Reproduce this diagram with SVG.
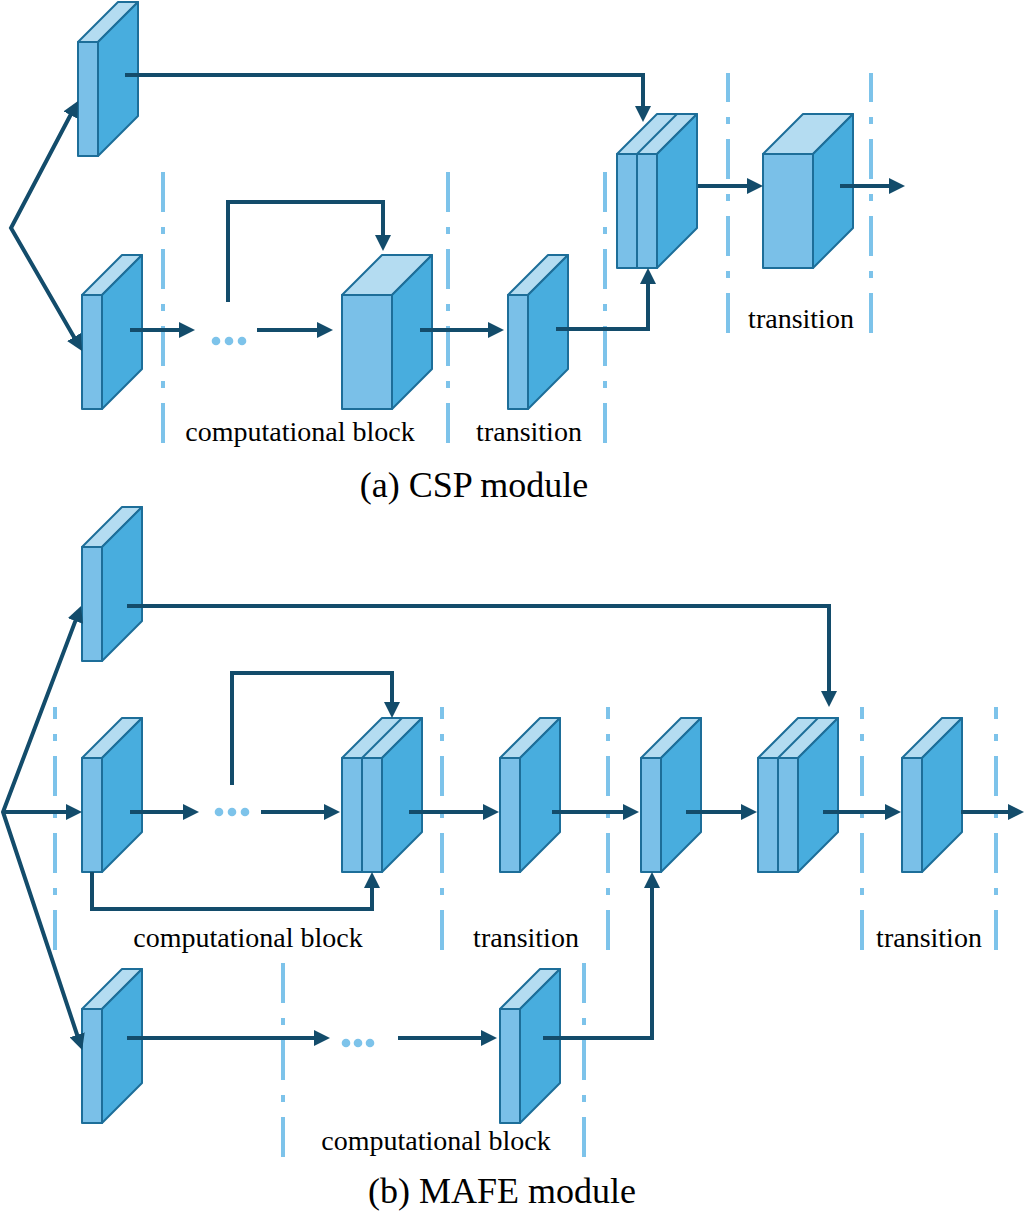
<svg xmlns="http://www.w3.org/2000/svg" width="1025" height="1214" viewBox="0 0 1025 1214">
<style>
.fr{fill:#7AC0E8;stroke:#1D6E99;stroke-width:2;stroke-linejoin:round}
.sd{fill:#48ADDE;stroke:#1D6E99;stroke-width:2;stroke-linejoin:round}
.tp{fill:#B4DCF1;stroke:#1D6E99;stroke-width:2;stroke-linejoin:round}
.dv{fill:none;stroke:#1D6E99;stroke-width:2}
.cn{fill:none;stroke:#134C6B;stroke-width:4}
.ar{marker-end:url(#ah)}
.dash{fill:none;stroke:#7DC3EA;stroke-width:4;stroke-dasharray:40 15 7 15}
.dot{fill:#7DC3EA}
.lb{font-family:"Liberation Serif","Times New Roman",serif;font-size:28px;fill:#000;text-anchor:middle}
.cap{font-family:"Liberation Serif","Times New Roman",serif;font-size:36px;fill:#000;text-anchor:middle}
</style>
<defs>
<marker id="ah" markerUnits="userSpaceOnUse" markerWidth="16" markerHeight="16" refX="6" refY="8" orient="auto-start-reverse" viewBox="0 0 16 16">
<path d="M0,0 L16,8 L0,16 z" fill="#134C6B"/>
</marker>
</defs>
<rect width="1025" height="1214" fill="#fff"/>

<g id="separators">
<line class="dash" x1="163" y1="443" x2="163" y2="172"/>
<line class="dash" x1="448" y1="443" x2="448" y2="172"/>
<line class="dash" x1="605" y1="443" x2="605" y2="172"/>
<line class="dash" x1="728" y1="333" x2="728" y2="73"/>
<line class="dash" x1="871" y1="333" x2="871" y2="73"/>
<line class="dash" x1="55" y1="950" x2="55" y2="707"/>
<line class="dash" x1="442" y1="950" x2="442" y2="707"/>
<line class="dash" x1="608" y1="950" x2="608" y2="707"/>
<line class="dash" x1="862" y1="950" x2="862" y2="707"/>
<line class="dash" x1="996" y1="950" x2="996" y2="707"/>
<line class="dash" x1="283" y1="1157" x2="283" y2="962"/>
<line class="dash" x1="584" y1="1157" x2="584" y2="962"/>
</g>

<!-- CSP nodes -->
<g id="csp-split-top">
<rect class="fr" x="78" y="42" width="20" height="114"/>
<polygon class="tp" points="78,42 118,2 138,2 98,42"/>
<polygon class="sd" points="98,42 138,2 138,116 98,156"/>
</g>
<g id="csp-split-bottom">
<rect class="fr" x="82" y="295" width="20" height="114"/>
<polygon class="tp" points="82,295 122,255 142,255 102,295"/>
<polygon class="sd" points="102,295 142,255 142,369 102,409"/>
</g>
<g id="csp-block">
<rect class="fr" x="342" y="295" width="50" height="114"/>
<polygon class="tp" points="342,295 382,255 432,255 392,295"/>
<polygon class="sd" points="392,295 432,255 432,369 392,409"/>
</g>
<g id="csp-transition1">
<rect class="fr" x="508" y="295" width="20" height="114"/>
<polygon class="tp" points="508,295 548,255 568,255 528,295"/>
<polygon class="sd" points="528,295 568,255 568,369 528,409"/>
</g>
<g id="csp-concat">
<rect class="fr" x="617" y="154" width="40" height="114"/>
<line class="dv" x1="637" y1="154" x2="637" y2="268"/>
<polygon class="tp" points="617,154 657,114 697,114 657,154"/>
<line class="dv" x1="637" y1="154" x2="677" y2="114"/>
<polygon class="sd" points="657,154 697,114 697,228 657,268"/>
</g>
<g id="csp-transition2">
<rect class="fr" x="763" y="154" width="50" height="114"/>
<polygon class="tp" points="763,154 803,114 853,114 813,154"/>
<polygon class="sd" points="813,154 853,114 853,228 813,268"/>
</g>

<!-- MAFE nodes -->
<g id="mafe-split-top">
<rect class="fr" x="82" y="547" width="20" height="114"/>
<polygon class="tp" points="82,547 122,507 142,507 102,547"/>
<polygon class="sd" points="102,547 142,507 142,621 102,661"/>
</g>
<g id="mafe-split-mid">
<rect class="fr" x="82" y="758" width="20" height="114"/>
<polygon class="tp" points="82,758 122,718 142,718 102,758"/>
<polygon class="sd" points="102,758 142,718 142,832 102,872"/>
</g>
<g id="mafe-block-concat">
<rect class="fr" x="342" y="758" width="40" height="114"/>
<line class="dv" x1="362" y1="758" x2="362" y2="872"/>
<polygon class="tp" points="342,758 382,718 422,718 382,758"/>
<line class="dv" x1="362" y1="758" x2="402" y2="718"/>
<polygon class="sd" points="382,758 422,718 422,832 382,872"/>
</g>
<g id="mafe-transition1">
<rect class="fr" x="500" y="758" width="20" height="114"/>
<polygon class="tp" points="500,758 540,718 560,718 520,758"/>
<polygon class="sd" points="520,758 560,718 560,832 520,872"/>
</g>
<g id="mafe-merge">
<rect class="fr" x="641" y="758" width="20" height="114"/>
<polygon class="tp" points="641,758 681,718 701,718 661,758"/>
<polygon class="sd" points="661,758 701,718 701,832 661,872"/>
</g>
<g id="mafe-concat">
<rect class="fr" x="758" y="758" width="40" height="114"/>
<line class="dv" x1="778" y1="758" x2="778" y2="872"/>
<polygon class="tp" points="758,758 798,718 838,718 798,758"/>
<line class="dv" x1="778" y1="758" x2="818" y2="718"/>
<polygon class="sd" points="798,758 838,718 838,832 798,872"/>
</g>
<g id="mafe-transition2">
<rect class="fr" x="902" y="758" width="20" height="114"/>
<polygon class="tp" points="902,758 942,718 962,718 922,758"/>
<polygon class="sd" points="922,758 962,718 962,832 922,872"/>
</g>
<g id="mafe-split-bottom">
<rect class="fr" x="82" y="1009" width="20" height="114"/>
<polygon class="tp" points="82,1009 122,969 142,969 102,1009"/>
<polygon class="sd" points="102,1009 142,969 142,1083 102,1123"/>
</g>
<g id="mafe-bottom-block">
<rect class="fr" x="500" y="1009" width="20" height="114"/>
<polygon class="tp" points="500,1009 540,969 560,969 520,1009"/>
<polygon class="sd" points="520,1009 560,969 560,1083 520,1123"/>
</g>

<g id="ellipses">
<circle class="dot" cx="216" cy="341" r="4.3"/>
<circle class="dot" cx="229" cy="341" r="4.3"/>
<circle class="dot" cx="242" cy="341" r="4.3"/>
<circle class="dot" cx="219" cy="812" r="4.3"/>
<circle class="dot" cx="232" cy="812" r="4.3"/>
<circle class="dot" cx="245" cy="812" r="4.3"/>
<circle class="dot" cx="346" cy="1043" r="4.3"/>
<circle class="dot" cx="358" cy="1043" r="4.3"/>
<circle class="dot" cx="370" cy="1043" r="4.3"/>
</g>

<g id="connectors">
<!-- CSP -->
<path class="cn" d="M73.3,109.8 L11,228 L77,342.3" marker-start="url(#ah)" marker-end="url(#ah)"/>
<path class="cn ar" d="M125,75 H643 V112"/>
<path class="cn ar" d="M130,330 H185"/>
<path class="cn ar" d="M257,330 H323"/>
<path class="cn ar" d="M228,302 V202 H383 V241"/>
<path class="cn ar" d="M420,330 H494"/>
<path class="cn ar" d="M556,329 H648 V278"/>
<path class="cn ar" d="M698,186 H753"/>
<path class="cn ar" d="M840,186 H895"/>
<!-- MAFE -->
<path class="cn" d="M77.5,615.4 L3,812 L79,1040.5" marker-start="url(#ah)" marker-end="url(#ah)"/>
<path class="cn ar" d="M3,812 H72"/>
<path class="cn ar" d="M127,606 H829 V697"/>
<path class="cn ar" d="M130,812 H189"/>
<path class="cn ar" d="M261,812 H330"/>
<path class="cn ar" d="M232,785 V673 H392 V708"/>
<path class="cn ar" d="M92,872 V909 H372 V882"/>
<path class="cn ar" d="M409,812 H489"/>
<path class="cn ar" d="M552,812 H629"/>
<path class="cn ar" d="M686,812 H747"/>
<path class="cn ar" d="M823,812 H891"/>
<path class="cn ar" d="M961,812 H1014"/>
<path class="cn ar" d="M127,1038 H320"/>
<path class="cn ar" d="M398,1038 H487"/>
<path class="cn ar" d="M543,1038 H652 V882"/>
</g>

<g id="labels">
<text class="lb" x="300" y="441">computational block</text>
<text class="lb" x="529" y="441">transition</text>
<text class="lb" x="801" y="328">transition</text>
<text class="cap" x="474" y="497">(a) CSP module</text>
<text class="lb" x="248" y="947">computational block</text>
<text class="lb" x="526" y="947">transition</text>
<text class="lb" x="929" y="947">transition</text>
<text class="lb" x="436" y="1150">computational block</text>
<text class="cap" x="502" y="1203">(b) MAFE module</text>
</g>
</svg>
